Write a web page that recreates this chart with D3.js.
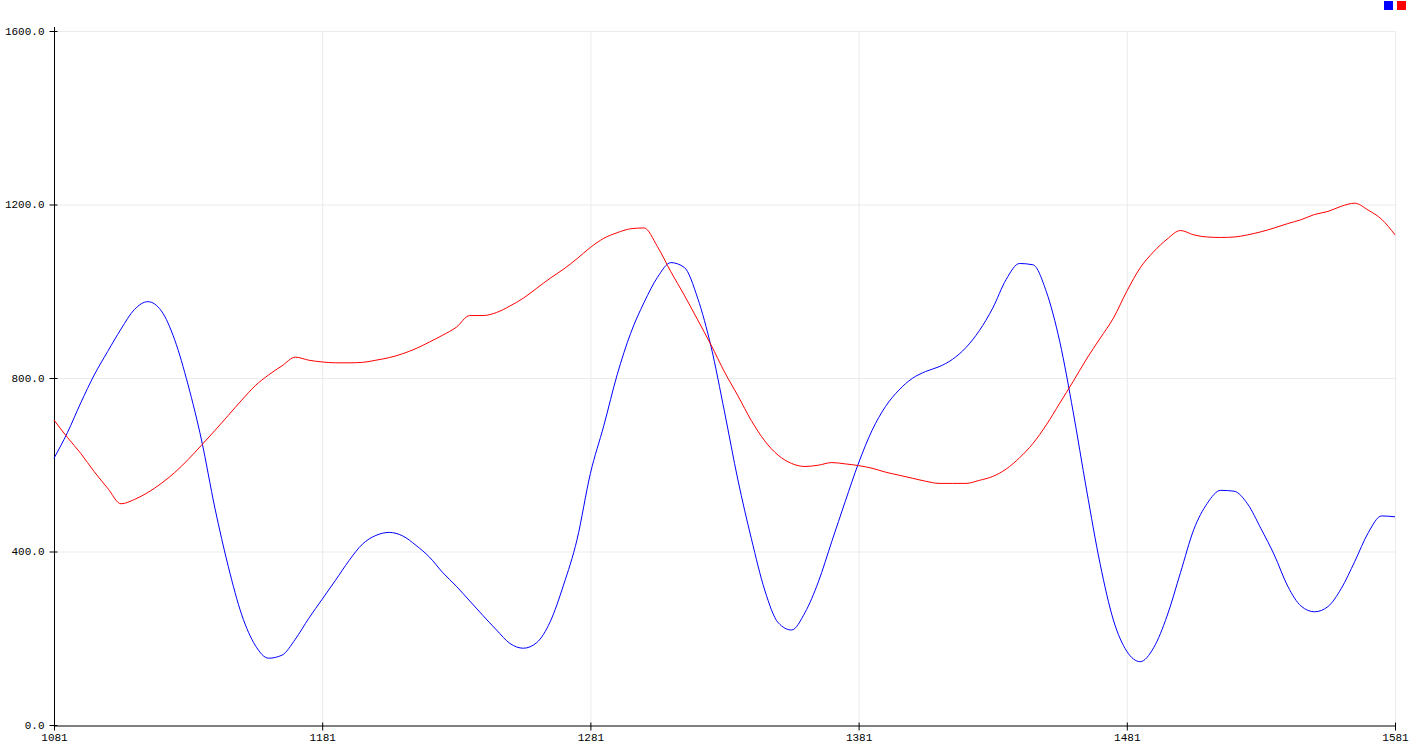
<!DOCTYPE html>
<html>
<head>
  <title>Serial Plotter</title>
  <script src="https://d3js.org/d3.v7.min.js"></script>
  <style>
    body { margin: 0; background: #fff; }
    svg text { font-family: "Liberation Mono", "DejaVu Sans Mono", monospace; font-size: 11px; fill: #000; }
  </style>
</head>
<body>
  <div id="plot"></div>
  <script>
    // sample index (every 5 samples)
    const samples = d3.range(1081, 1582, 5);

    const blueValues = [
      615, 674, 743, 807, 861, 913, 958, 976, 955, 888,
      784, 657, 500, 365, 254, 184, 154, 161, 198, 246,
      290, 334, 379, 417, 437, 444, 436, 414, 387, 351,
      320, 286, 252, 219, 188, 177, 190, 238, 323, 427,
      580, 690, 808, 903, 974, 1032, 1066, 1055, 984, 872,
      722, 565, 430, 311, 236, 219, 259, 330, 423, 515,
      604, 679, 734, 772, 799, 815, 826, 843, 870, 909,
      961, 1027, 1064, 1061, 999, 884, 722, 542, 373, 242,
      170, 146, 178, 251, 351, 451, 511, 541, 539, 510,
      453, 392, 320, 274, 261, 273, 315, 377, 443, 482,
      480
    ];

    const redValues = [
      703, 663, 626, 584, 546, 510, 520, 536, 557, 582,
      612, 645, 679, 714, 749, 782, 807, 828, 848, 841,
      837, 835, 835, 836, 841, 847, 856, 868, 883, 899,
      917, 944, 944, 951, 966, 984, 1007, 1030, 1051, 1075,
      1101, 1122, 1135, 1144, 1146, 1103, 1045, 991, 934, 876,
      814, 759, 702, 655, 622, 603, 596, 599, 605, 602,
      598, 592, 583, 576, 569, 562, 557, 557, 557, 564,
      573, 590, 616, 649, 692, 742, 792, 844, 891, 938,
      1000, 1054, 1091, 1120, 1140, 1130, 1125, 1124, 1125, 1130,
      1137, 1146, 1156, 1165, 1177, 1184, 1196, 1203, 1187, 1166,
      1130
    ];

    const xTicks = [1081, 1181, 1281, 1381, 1481, 1581];
    const yTicks = [0, 400, 800, 1200, 1600];
    const seriesColors = ["#0000ff", "#ff0000"];

    const width = 1415, height = 752;
    const margin = { top: 31, right: 20, bottom: 27, left: 54 };

    const svg = d3.select("#plot")
      .append("svg")
      .attr("width", width)
      .attr("height", height);

    const x = d3.scaleLinear()
      .domain([1081, 1581])
      .range([margin.left, width - margin.right]);

    const y = d3.scaleLinear()
      .domain([0, 1600])
      .range([height - margin.bottom, margin.top]);

    // grid
    svg.append("g")
      .selectAll("line")
      .data(yTicks.filter(d => d > 0))
      .enter()
      .append("line")
      .attr("x1", margin.left)
      .attr("x2", width - margin.right)
      .attr("y1", d => y(d) + 0.5)
      .attr("y2", d => y(d) + 0.5)
      .attr("stroke", "#ebebeb");

    svg.append("g")
      .selectAll("line")
      .data(xTicks.filter(d => d > 1081))
      .enter()
      .append("line")
      .attr("x1", d => x(d) + 0.5)
      .attr("x2", d => x(d) + 0.5)
      .attr("y1", margin.top)
      .attr("y2", height - margin.bottom)
      .attr("stroke", "#ebebeb");

    // axes
    const xAxis = svg.append("g")
      .attr("transform", `translate(0,${height - margin.bottom + 0.5})`)
      .call(d3.axisBottom(x).tickValues(xTicks).tickSize(5).tickSizeOuter(0).tickFormat(d3.format("d")));
    xAxis.select(".domain").attr("stroke", "#000");
    xAxis.selectAll(".tick line").attr("y1", -3).attr("y2", 5).attr("stroke", "#000");
    xAxis.selectAll(".tick text").attr("y", 8);

    const yAxis = svg.append("g")
      .attr("transform", `translate(${margin.left + 0.5},0)`)
      .call(d3.axisLeft(y).tickValues(yTicks).tickSize(4).tickSizeOuter(0).tickFormat(d3.format(".1f")));
    yAxis.select(".domain").attr("stroke", "#000").attr("d", `M0,${height - margin.bottom}V${margin.top - 4}`);
    yAxis.selectAll(".tick line").attr("x1", -5).attr("x2", 3).attr("stroke", "#000");
    yAxis.selectAll(".tick text").attr("x", -10).attr("dy", "0.28em");

    // lines
    const line = d3.line()
      .x((d, i) => x(samples[i]))
      .y(d => y(d))
      .curve(d3.curveMonotoneX);

    [blueValues, redValues].forEach((vals, k) => {
      svg.append("path")
        .datum(vals)
        .attr("fill", "none")
        .attr("stroke", seriesColors[k])
        .attr("stroke-width", 1)
        .attr("d", line);
    });

    // legend squares
    svg.append("g")
      .selectAll("rect")
      .data(seriesColors)
      .enter()
      .append("rect")
      .attr("x", (d, i) => 1384 + i * 13)
      .attr("y", 1)
      .attr("width", 9)
      .attr("height", 9)
      .attr("fill", d => d);
  </script>
</body>
</html>
